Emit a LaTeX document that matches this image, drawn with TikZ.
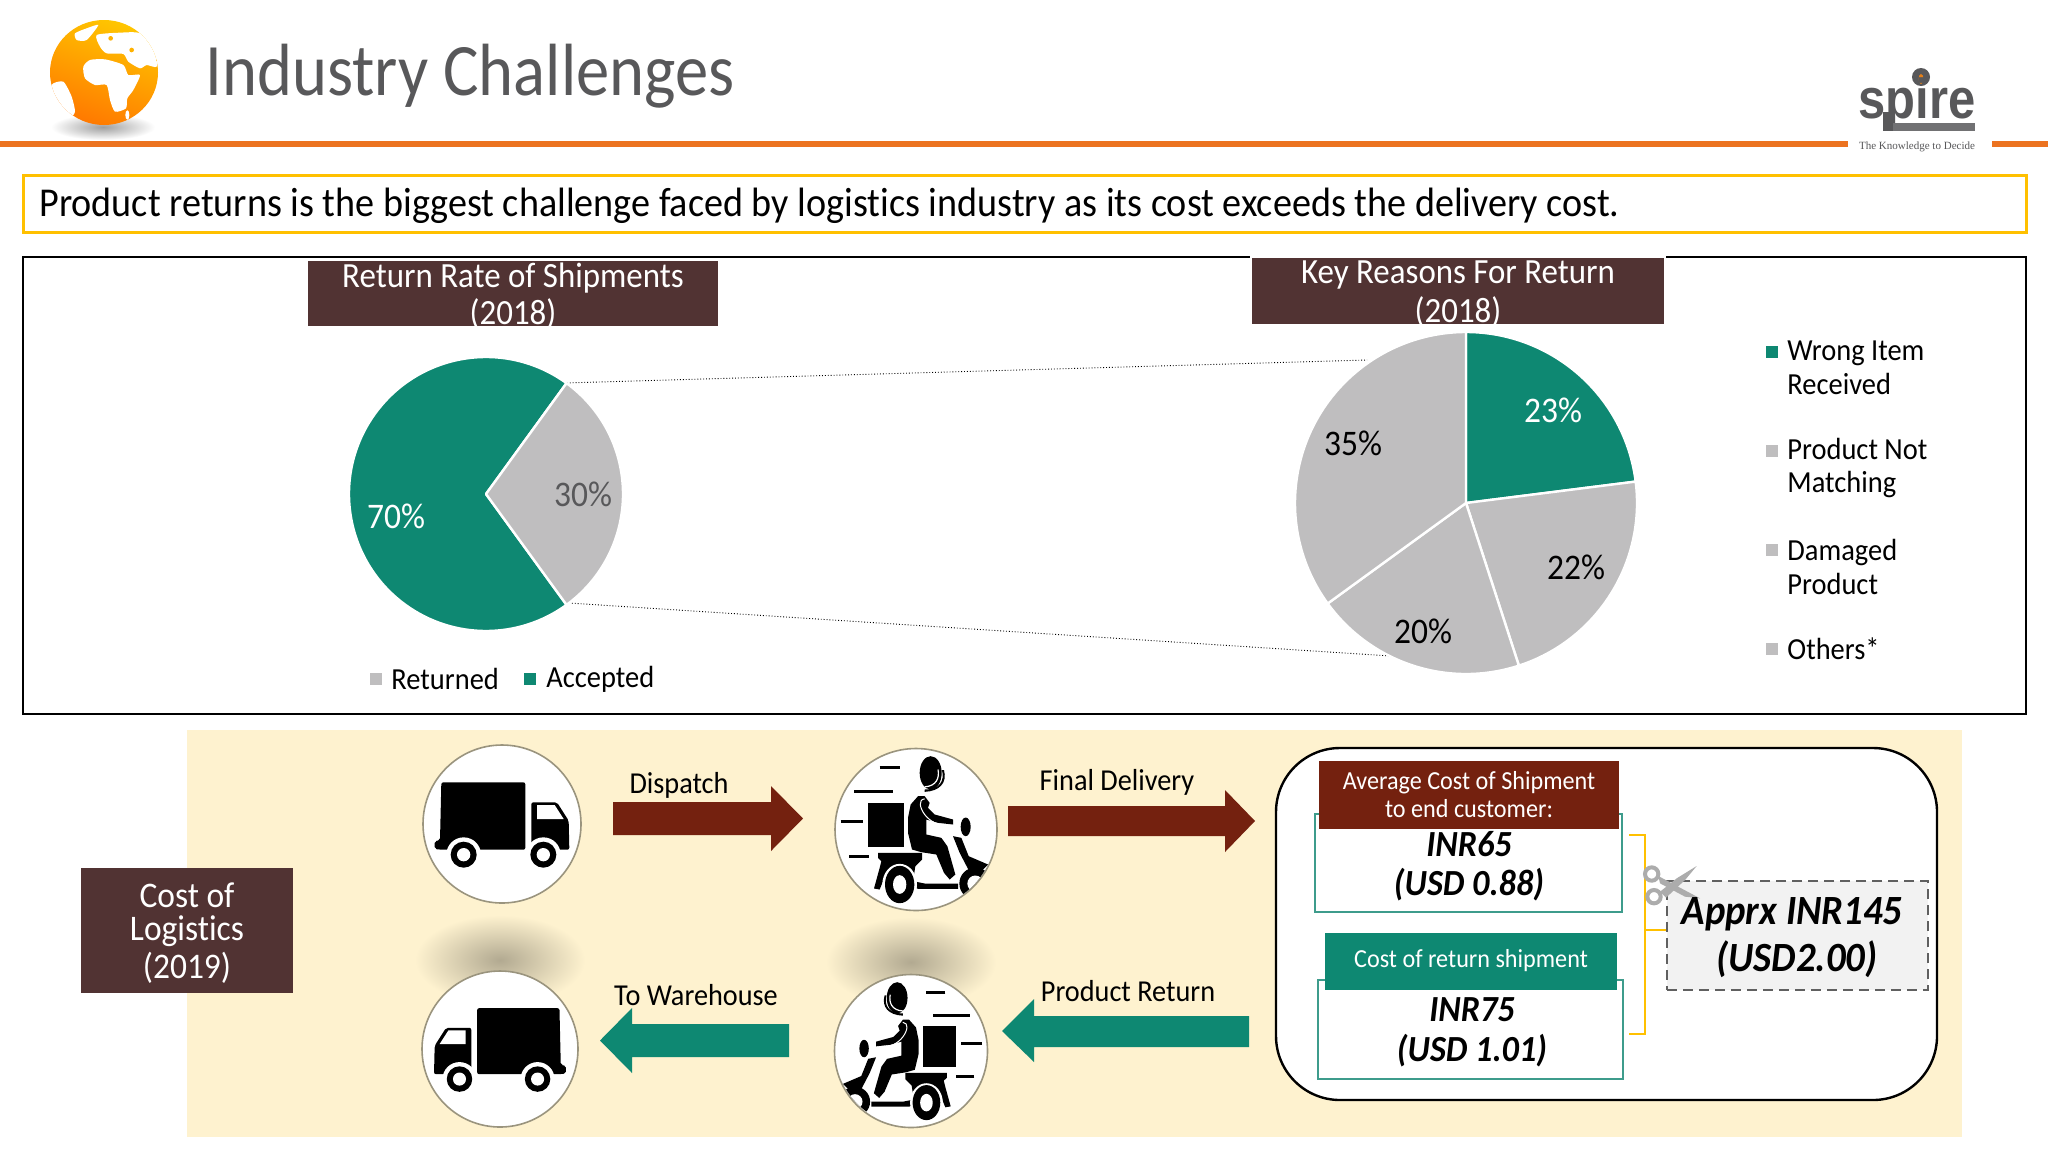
\documentclass[tikz,border=0pt]{standalone}
\usepackage{fontspec}
\setmainfont{Carlito}[FakeStretch=0.93,Ligatures=NoCommon]
\newfontfamily\titlefont{Carlito}[FakeStretch=0.9,Ligatures=NoCommon]
\newfontfamily\logofont{Liberation Sans}
\newfontfamily\tagfont{Liberation Serif}
\usetikzlibrary{fit,calc}
\definecolor{teal1}{HTML}{0E8872}
\definecolor{maroon1}{HTML}{74210F}
\definecolor{plate1}{HTML}{513333}
\definecolor{cream1}{HTML}{FEF2CF}
\definecolor{gray1}{HTML}{BFBEBF}
\definecolor{title1}{HTML}{58585A}
\definecolor{orange1}{HTML}{EC7320}
\definecolor{gold1}{HTML}{FFC000}
\definecolor{outline1}{HTML}{3E9C8C}
\definecolor{rim1}{HTML}{9A947E}
\newcommand{\fs}[1]{\fontsize{#1}{#1}\selectfont}
\newcommand{\slice}[4]{\draw[white,line width=1.2pt,fill=#4,line join=round] (0,0) -- (#1:#3) arc[start angle=#1,end angle=#2,radius=#3] -- cycle;}
\newcommand{\truckicon}[4]{%
 \begin{scope}[shift={(#1,#2)},xscale=#3,yscale=#4]
 \begin{scope}[x=0.16667pt,y=-0.16667pt,shift={(-260,-255)}]
  \fill[black,rounded corners=1pt] (78,130) -- (330,130) -- (330,332) -- (78,332) -- (58,330) -- (58,306) -- (74,304) -- cycle;
  \fill[black,rounded corners=1pt] (348,190) -- (425,190) -- (460,245) -- (462,332) -- (348,332) -- cycle;
  \fill[white] (365,198) -- (418,198) -- (445,240) -- (365,240) -- cycle;
  \foreach \wx in {145,384}{
   \fill[white] (\wx,347) circle[radius=52];
   \fill[black] (\wx,347) circle[radius=39];
   \fill[white] (\wx,347) circle[radius=20];}
 \end{scope}
 \end{scope}}
\newcommand{\scootericon}[5]{%
 \begin{scope}
  \clip (#1,#2) ellipse[x radius=#4-1,y radius=#5-1];
  \begin{scope}[shift={(#1,#2)},xscale=#3*#4/81,yscale=#5/81]
  \begin{scope}[x=0.16667pt,y=-0.16667pt,shift={(-274,-270)}]
   \fill[black] (318,100) ellipse[x radius=33,y radius=50];
   \draw[white,line width=0.6pt] (300,142) .. controls (335,140) and (345,115) .. (340,90);
   \fill[black] (300,150) .. controls (345,150) and (360,125) .. (352,92) -- (358,92) .. controls (368,130) and (345,155) .. (300,157) -- cycle;
   \fill[black,line join=round] (280,170) -- (300,170) -- (315,190) -- (310,205) -- (330,225) -- (385,240) -- (385,255) -- (340,250) -- (305,240) -- (305,285) -- (350,295) -- (368,320) -- (392,405) -- (375,420) -- (358,400) -- (335,345) -- (290,338) -- (262,330) -- (250,280) -- (250,235) -- (258,195) -- cycle;
   \draw[white,line width=0.5pt] (300,178) .. controls (280,180) and (285,205) .. (300,225) .. controls (315,245) and (340,258) .. (372,262);
   \fill[black] (130,190) rectangle (237,322);
   \fill[black] (160,340) -- (292,340) -- (292,360) -- (272,380) -- (265,425) -- (300,432) -- (400,432) -- (400,448) -- (280,448) -- (262,440) -- (255,410) -- (240,395) -- (215,385) -- (190,395) -- (175,425) -- (165,450) -- (148,447) -- (165,385) -- (170,365) -- (160,355) -- cycle;
   \fill[white] (225,435) ellipse[x radius=52,y radius=62];
   \fill[black] (225,435) ellipse[x radius=44,y radius=56];
   \fill[white] (225,435) ellipse[x radius=20,y radius=28];
   \fill[black] (423,262) ellipse[x radius=15,y radius=28];
   \fill[black] (385,290) -- (410,295) -- (432,350) -- (490,375) -- (470,395) -- (432,392) -- (405,340) -- cycle;
   \fill[black] (452,432) circle[radius=48];
   \fill[white] (452,432) circle[radius=24];
   \draw[black,line width=1.5pt] (165,84) -- (225,84) (88,155) -- (205,155) (48,247) -- (115,247) (73,352) -- (132,352);
  \end{scope}
  \end{scope}
 \end{scope}}
\tikzset{
 px/.style={x=0.5pt,y=-0.5pt},
 txt/.style={inner sep=0pt,align=center,anchor=center},
 ltxt/.style={inner sep=0pt,anchor=west,black},
 hdr/.style={txt,text=white,font=\fs{17.7}},
 pct/.style={txt,font=\fs{18}},
 legsq/.style={fill=gray1},
 plate/.style={inner sep=0pt,fill=plate1},
 valtxt/.style={txt,text=black,font=\fs{18.4}\bfseries\itshape},
 arrowlbl/.style={txt,text=black,font=\fs{15.2}},
 circ/.style={circle,draw=rim1,line width=0.8pt,fill=white,inner sep=0pt},
 costbox/.style={inner sep=0pt,draw=outline1,line width=1pt,fill=white},
 sel/.style={draw=gold1,line width=1pt},
}
\begin{document}
\begin{tikzpicture}[px]
\useasboundingbox (0,0) rectangle (2048,1152);
\fill[white] (0,0) rectangle (2048,1152);
% header rule
\coordinate (ruleA) at (0,144); \coordinate (ruleB) at (1848,144);
\coordinate (ruleC) at (1992,144); \coordinate (ruleD) at (2048,144);
\draw[orange1,line width=3pt] (ruleA) -- (ruleB) (ruleC) -- (ruleD);
% globe
\shade[inner color=gray!75,outer color=white] (103,127) ellipse[x radius=52,y radius=13];
\shade[left color=orange!45!yellow,right color=orange!95!red,shading angle=-20] (104,72.5) ellipse[x radius=54,y radius=52.5];
\begin{scope}
 \clip (104,72.5) ellipse[x radius=54,y radius=52.5];
 \begin{scope}[shift={(40,10)},x=0.16667pt,y=-0.16667pt]
  \fill[white] plot[smooth cycle,tension=.4] coordinates {(130,170)(150,150)(195,148)(250,165)(265,195)(300,195)(280,240)(262,265)(258,295)(225,305)(210,270)(200,225)(165,225)(135,205)};
  \fill[white] plot[smooth cycle,tension=.4] coordinates {(170,75)(240,68)(300,70)(345,120)(350,170)(320,165)(300,175)(265,155)(250,132)(200,130)(180,110)};
  \fill[white] plot[smooth cycle,tension=.4] coordinates {(105,70)(140,55)(175,45)(140,90)(110,90)};
  \fill[white] plot[smooth cycle,tension=.4] coordinates {(35,225)(70,215)(95,260)(105,305)(90,320)(55,280)};
  \fill[orange!60!yellow] (212,85) circle[radius=7] (275,120) circle[radius=7];
  \fill[white] (262,315) ellipse[x radius=6,y radius=14];
 \end{scope}
\end{scope}
% title
\node[inner sep=0pt,anchor=base west,text=title1,font=\fs{37}\titlefont] (title) at (205,95) {Industry Challenges};
% logo
\fill[title1] (1921,77) circle[radius=9];
\fill[orange!60!brown] (1921,79) ellipse[x radius=2.5,y radius=5];
\node[inner sep=0pt,anchor=base,text=title1] (logo) at (1917,118) {\logofont\bfseries\scalebox{1}[1.15]{\resizebox{58.5pt}{!}{spire}}};
\fill[title1] (1883,112) rectangle (1893,131);
\fill[title1!85!white] (1893,123) rectangle (1975,131);
\node[txt,text=title1] (tag) at (1917,147) {\tagfont\resizebox{58pt}{!}{The Knowledge to Decide}};
% headline
\node[fit={(23,175)(2026,232)},inner sep=0pt,draw=gold1,line width=1.5pt,fill=white] (headbox) {};
\node[inner sep=0pt,anchor=base west,text=black,font=\fs{20.5}] (headline) at (39,216) {Product returns is the biggest challenge faced by logistics industry as its cost exceeds the delivery cost.};
% chart frame
\node[fit={(23,257)(2026,714)},inner sep=0pt,draw=black,line width=1pt,fill=white] (frame) {};
\fill[white] (1250,253) rectangle (1666,262);
\node[fit={(308,261)(718,326)},plate] (plateA) {};
\node[fit={(1252,258)(1664,324)},plate] (plateB) {};
\node[hdr] (hA1) at (513,278) {Return Rate of Shipments};
\node[hdr] (hA2) at (513,314) {(2018)};
\node[hdr] (hB1) at (1458,275) {Key Reasons For Return};
\node[hdr] (hB2) at (1458,312) {(2018)};
% leader lines
\coordinate (l1a) at (564,383); \coordinate (l1b) at (1367,360);
\coordinate (l2a) at (569,603); \coordinate (l2b) at (1391,656);
\draw[black,line width=0.45pt,densely dotted] (l1a) -- (l1b) (l2a) -- (l2b);
% left pie
\begin{scope}[shift={(486,494)},y=0.5pt]
 \slice{54}{306}{137}{teal1}
 \slice{-54}{54}{137}{gray1}
\end{scope}
\node[pct,text=white] (p70) at (396,516) {70\%};
\node[pct,text=title1] (p30) at (583,494) {30\%};
\fill[legsq] (370,673) rectangle (382,685);
\node[ltxt,font=\fs{15.3}] (lgR) at (391,679) {Returned};
\fill[teal1] (524,673) rectangle (536,685);
\node[ltxt,font=\fs{15.3}] (lgA) at (546,679) {Accepted};
% right pie
\begin{scope}[shift={(1466,503)},y=0.5pt]
 \slice{90}{7.2}{171}{teal1}
 \slice{7.2}{-72}{171}{gray1}
 \slice{-72}{-144}{171}{gray1}
 \slice{-144}{-270}{171}{gray1}
\end{scope}
\node[pct,text=white] (p23) at (1553,410) {23\%};
\node[pct,text=black] (p35) at (1353,443) {35\%};
\node[pct,text=black] (p22) at (1576,567) {22\%};
\node[pct,text=black] (p20) at (1423,631) {20\%};
\fill[teal1] (1766,346) rectangle (1778,358);
\fill[legsq] (1766,445) rectangle (1778,457);
\fill[legsq] (1766,544) rectangle (1778,556);
\fill[legsq] (1766,643) rectangle (1778,655);
\node[ltxt,font=\fs{15.3},align=left] (lg1) at (1787,368) {Wrong Item\\[1.5pt]Received};
\node[ltxt,font=\fs{15.3},align=left] (lg2) at (1787,468) {Product Not\\[1.5pt]Matching};
\node[ltxt,font=\fs{15.3},align=left] (lg3) at (1787,567) {Damaged\\[1.5pt]Product};
\node[ltxt,font=\fs{15.3}] (lg4) at (1787,649) {Others*};
% lower panel
\fill[cream1] (187,730) rectangle (1962,1137);
\node[fit={(81,868)(293,993)},plate] (costPlate) {};
\node[txt,text=white,font=\fs{18}] (cost1) at (187,895) {Cost of};
\node[txt,text=white,font=\fs{18}] (cost2) at (187,931) {Logistics};
\node[txt,text=white,font=\fs{18}] (cost3) at (187,968) {(2019)};
% shadows above lower circles
\shade[inner color=black!30!cream1,outer color=cream1] (500,960) ellipse[x radius=85,y radius=45];
\shade[inner color=black!30!cream1,outer color=cream1] (911,962) ellipse[x radius=85,y radius=45];
% circles
\node[circ,minimum size=79pt] (truckA) at (502,824) {};
\node[circ,minimum size=81pt] (scootA) at (916,829.5) {};
\node[circ,minimum size=78pt] (truckB) at (500,1049) {};
\node[circ,minimum size=76.5pt] (scootB) at (911,1051) {};
\truckicon{502}{824}{1}{1}
\truckicon{500}{1049}{-.98}{.98}
\scootericon{916}{829.5}{1}{81}{81}
\scootericon{911}{1051}{-1}{76.5}{76}
% block arrows
\fill[maroon1] (613,802) -- (771,802) -- (771,786) -- (803,818.5) -- (771,851) -- (771,835) -- (613,835) -- cycle;
\fill[maroon1] (1008,806) -- (1225,806) -- (1225,790) -- (1255,821) -- (1225,852) -- (1225,836) -- (1008,836) -- cycle;
\fill[teal1] (789,1024) -- (632,1024) -- (632,1008) -- (600,1040.5) -- (632,1073) -- (632,1057) -- (789,1057) -- cycle;
\fill[teal1] (1249,1016) -- (1034,1016) -- (1034,999) -- (1002,1031) -- (1034,1062) -- (1034,1047) -- (1249,1047) -- cycle;
\node[arrowlbl] (dispatch) at (679,785) {Dispatch};
\node[arrowlbl] (final) at (1117,782) {Final Delivery};
\node[arrowlbl] (ware) at (696,995) {To Warehouse};
\node[arrowlbl] (preturn) at (1128,991) {Product Return};
% cost panel
\node[fit={(1276,748)(1937,1100)},inner sep=0pt,draw=black,line width=1.2pt,fill=white,rounded corners=32pt] (panel) {};
\node[fit={(1315,814)(1622,912)},costbox] (boxA) {};
\node[fit={(1318,980)(1623,1079)},costbox] (boxB) {};
\node[fit={(1319,761)(1619,829)},inner sep=0pt,fill=maroon1] (plateC) {};
\node[fit={(1325,933)(1617,990)},inner sep=0pt,fill=teal1] (plateD) {};
\node[txt,text=white,font=\fs{13}] (c1) at (1469,783) {Average Cost of Shipment};
\node[txt,text=white,font=\fs{13}] (c2) at (1469,809) {to end customer:};
\node[txt,text=white,font=\fs{13}] (c3) at (1471,961) {Cost of return shipment};
\node[valtxt] (v1) at (1469,844) {INR65};
\node[valtxt] (v2) at (1469,885) {(USD 0.88)};
\node[valtxt] (v3) at (1472,1010) {INR75};
\node[valtxt] (v4) at (1472,1051) {(USD 1.01)};
% bracket
\node[fit={(1667,881)(1928,990)},inner sep=0pt,draw=gray!75!black,dash pattern=on 5pt off 3pt,line width=1.2pt,fill=black!5] (sum) {};
\coordinate (brA) at ($(boxA.east)+(6,-28)$);
\coordinate (brB) at ($(boxB.east)+(5,4)$);
\coordinate (brX) at (1645,930);
\draw[sel] (brA) -| (brX) (brB) -| (brX);
\draw[sel] (brX) -- (sum.west |- brX);
% scissors
\begin{scope}[shift={(1630,850)},x=0.16667pt,y=-0.16667pt]
 \draw[gray!65,line width=2pt] (65,72) circle[radius=20];
 \draw[gray!65,line width=2pt] (72,140) circle[radius=20];
 \fill[gray!65] (85,78) -- (135,105) -- (210,145) -- (165,140) -- (90,100) -- cycle;
 \fill[gray!65] (90,125) -- (140,85) -- (200,48) -- (165,90) -- (108,143) -- cycle;
\end{scope}
\node[txt,text=black,font=\fs{20.8}\bfseries\itshape] (s1) at (1792,914) {Apprx INR145};
\node[txt,text=black,font=\fs{20.8}\bfseries\itshape] (s2) at (1797,959) {(USD2.00)};
\end{tikzpicture}
\end{document}
